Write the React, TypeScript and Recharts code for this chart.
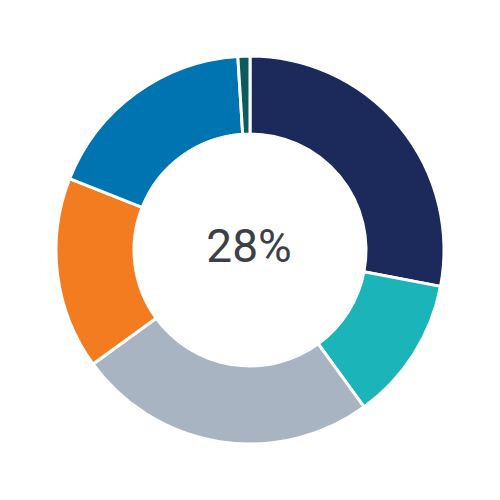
import React from "react";
import { PieChart, Pie, Cell } from "recharts";

const categories = ["A", "B", "C", "D", "E", "F"];
const values = [28, 12, 25, 16, 18, 1];
const colors = ["#1B2A5B", "#1BB5B9", "#A9B4C3", "#F47C20", "#0073B1", "#0B5C5E"];
const centerLabel = "28%";

const data = categories.map((name, i) => ({ name, value: values[i] }));

export default function App() {
  return (
    <div style={{ position: "absolute", left: 0, top: 0, width: 500, height: 500, background: "#fff" }}>
      <PieChart width={500} height={500} margin={{ top: 0, right: 0, bottom: 0, left: 0 }}>
        <Pie
          data={data}
          dataKey="value"
          nameKey="name"
          cx={250}
          cy={250}
          innerRadius={116}
          outerRadius={194}
          startAngle={90}
          endAngle={-270}
          stroke="#ffffff"
          strokeWidth={3}
          isAnimationActive={false}
        >
          {data.map((d, i) => (
            <Cell key={d.name} fill={colors[i]} />
          ))}
        </Pie>
        <text
          x={249}
          y={262}
          textAnchor="middle"
          fontFamily="Roboto"
          fontSize={46}
          fill="#3B4048"
        >
          {centerLabel}
        </text>
      </PieChart>
    </div>
  );
}
